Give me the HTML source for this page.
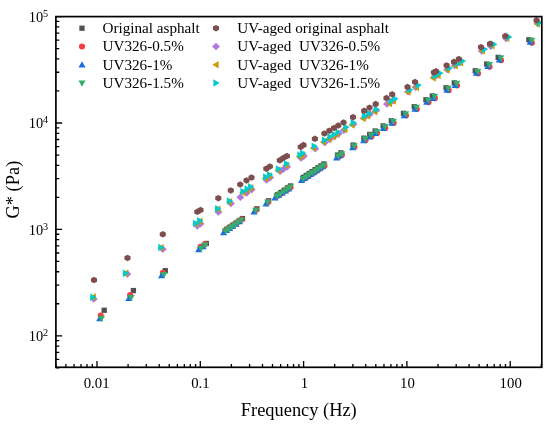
<!DOCTYPE html>
<html lang="en">
<head>
<meta charset="utf-8">
<title>G* master curve</title>
<style>html,body{margin:0;padding:0;background:#fff}svg{display:block}</style>
</head>
<body>
<svg width="550" height="425" viewBox="0 0 550 425">
<rect width="550" height="425" fill="#ffffff"/>
<clipPath id="clip"><rect x="55.9" y="16.6" width="485.9" height="350.7"/></clipPath>
<g clip-path="url(#clip)">
<g class="s-gray">
<rect x="101.55" y="307.61" width="5.3" height="5.3" fill="#515151"/>
<rect x="130.75" y="287.92" width="5.3" height="5.3" fill="#515151"/>
<rect x="162.64" y="268.03" width="5.3" height="5.3" fill="#515151"/>
<rect x="199.29" y="243.68" width="5.3" height="5.3" fill="#515151"/>
<rect x="203.68" y="240.80" width="5.3" height="5.3" fill="#515151"/>
<rect x="224.00" y="226.79" width="5.3" height="5.3" fill="#515151"/>
<rect x="226.97" y="224.74" width="5.3" height="5.3" fill="#515151"/>
<rect x="229.95" y="222.70" width="5.3" height="5.3" fill="#515151"/>
<rect x="232.93" y="220.66" width="5.3" height="5.3" fill="#515151"/>
<rect x="236.40" y="218.28" width="5.3" height="5.3" fill="#515151"/>
<rect x="239.87" y="215.91" width="5.3" height="5.3" fill="#515151"/>
<rect x="254.25" y="206.16" width="5.3" height="5.3" fill="#515151"/>
<rect x="265.98" y="198.14" width="5.3" height="5.3" fill="#515151"/>
<rect x="274.77" y="192.17" width="5.3" height="5.3" fill="#515151"/>
<rect x="278.19" y="189.86" width="5.3" height="5.3" fill="#515151"/>
<rect x="281.61" y="187.55" width="5.3" height="5.3" fill="#515151"/>
<rect x="285.02" y="185.25" width="5.3" height="5.3" fill="#515151"/>
<rect x="287.95" y="183.29" width="5.3" height="5.3" fill="#515151"/>
<rect x="300.65" y="174.81" width="5.3" height="5.3" fill="#515151"/>
<rect x="303.58" y="172.87" width="5.3" height="5.3" fill="#515151"/>
<rect x="306.51" y="170.93" width="5.3" height="5.3" fill="#515151"/>
<rect x="309.44" y="169.00" width="5.3" height="5.3" fill="#515151"/>
<rect x="312.37" y="167.07" width="5.3" height="5.3" fill="#515151"/>
<rect x="315.30" y="165.14" width="5.3" height="5.3" fill="#515151"/>
<rect x="318.23" y="163.22" width="5.3" height="5.3" fill="#515151"/>
<rect x="321.16" y="161.31" width="5.3" height="5.3" fill="#515151"/>
<rect x="334.83" y="152.42" width="5.3" height="5.3" fill="#515151"/>
<rect x="338.25" y="150.22" width="5.3" height="5.3" fill="#515151"/>
<rect x="350.45" y="142.40" width="5.3" height="5.3" fill="#515151"/>
<rect x="361.19" y="135.51" width="5.3" height="5.3" fill="#515151"/>
<rect x="367.05" y="131.78" width="5.3" height="5.3" fill="#515151"/>
<rect x="372.52" y="128.32" width="5.3" height="5.3" fill="#515151"/>
<rect x="380.53" y="123.27" width="5.3" height="5.3" fill="#515151"/>
<rect x="388.73" y="118.15" width="5.3" height="5.3" fill="#515151"/>
<rect x="400.84" y="110.67" width="5.3" height="5.3" fill="#515151"/>
<rect x="411.60" y="104.12" width="5.3" height="5.3" fill="#515151"/>
<rect x="423.27" y="97.10" width="5.3" height="5.3" fill="#515151"/>
<rect x="429.65" y="93.28" width="5.3" height="5.3" fill="#515151"/>
<rect x="443.40" y="85.13" width="5.3" height="5.3" fill="#515151"/>
<rect x="451.68" y="80.28" width="5.3" height="5.3" fill="#515151"/>
<rect x="472.61" y="68.13" width="5.3" height="5.3" fill="#515151"/>
<rect x="484.08" y="61.38" width="5.3" height="5.3" fill="#515151"/>
<rect x="495.54" y="54.70" width="5.3" height="5.3" fill="#515151"/>
<rect x="526.25" y="37.12" width="5.3" height="5.3" fill="#515151"/>
</g>
<g class="s-red">
<circle cx="100.70" cy="315.56" r="3.05" fill="#F14040"/>
<circle cx="130.10" cy="295.17" r="3.05" fill="#F14040"/>
<circle cx="162.90" cy="272.76" r="3.05" fill="#F14040"/>
<circle cx="200.40" cy="247.14" r="3.05" fill="#F14040"/>
<circle cx="204.90" cy="244.10" r="3.05" fill="#F14040"/>
<circle cx="225.40" cy="230.30" r="3.05" fill="#F14040"/>
<circle cx="228.40" cy="228.30" r="3.05" fill="#F14040"/>
<circle cx="231.40" cy="226.30" r="3.05" fill="#F14040"/>
<circle cx="234.40" cy="224.30" r="3.05" fill="#F14040"/>
<circle cx="237.90" cy="221.97" r="3.05" fill="#F14040"/>
<circle cx="241.40" cy="219.65" r="3.05" fill="#F14040"/>
<circle cx="255.90" cy="210.10" r="3.05" fill="#F14040"/>
<circle cx="267.91" cy="202.16" r="3.05" fill="#F14040"/>
<circle cx="276.91" cy="196.25" r="3.05" fill="#F14040"/>
<circle cx="280.42" cy="193.96" r="3.05" fill="#F14040"/>
<circle cx="283.92" cy="191.67" r="3.05" fill="#F14040"/>
<circle cx="287.42" cy="189.39" r="3.05" fill="#F14040"/>
<circle cx="290.42" cy="187.45" r="3.05" fill="#F14040"/>
<circle cx="303.43" cy="179.06" r="3.05" fill="#F14040"/>
<circle cx="306.43" cy="177.13" r="3.05" fill="#F14040"/>
<circle cx="309.44" cy="175.21" r="3.05" fill="#F14040"/>
<circle cx="312.44" cy="173.30" r="3.05" fill="#F14040"/>
<circle cx="315.44" cy="171.39" r="3.05" fill="#F14040"/>
<circle cx="318.44" cy="169.48" r="3.05" fill="#F14040"/>
<circle cx="321.44" cy="167.58" r="3.05" fill="#F14040"/>
<circle cx="324.45" cy="165.68" r="3.05" fill="#F14040"/>
<circle cx="338.46" cy="156.88" r="3.05" fill="#F14040"/>
<circle cx="341.96" cy="154.70" r="3.05" fill="#F14040"/>
<circle cx="354.47" cy="146.95" r="3.05" fill="#F14040"/>
<circle cx="365.48" cy="140.14" r="3.05" fill="#F14040"/>
<circle cx="371.48" cy="136.45" r="3.05" fill="#F14040"/>
<circle cx="377.08" cy="133.02" r="3.05" fill="#F14040"/>
<circle cx="385.29" cy="128.02" r="3.05" fill="#F14040"/>
<circle cx="393.69" cy="122.95" r="3.05" fill="#F14040"/>
<circle cx="406.00" cy="115.55" r="3.05" fill="#F14040"/>
<circle cx="416.81" cy="109.08" r="3.05" fill="#F14040"/>
<circle cx="428.52" cy="102.13" r="3.05" fill="#F14040"/>
<circle cx="434.93" cy="98.36" r="3.05" fill="#F14040"/>
<circle cx="448.74" cy="90.31" r="3.05" fill="#F14040"/>
<circle cx="457.04" cy="85.51" r="3.05" fill="#F14040"/>
<circle cx="478.06" cy="73.51" r="3.05" fill="#F14040"/>
<circle cx="489.57" cy="66.84" r="3.05" fill="#F14040"/>
<circle cx="501.08" cy="60.23" r="3.05" fill="#F14040"/>
<circle cx="531.90" cy="42.87" r="3.05" fill="#F14040"/>
</g>
<g class="s-blue">
<polygon points="96.15,321.37 103.25,321.37 99.70,315.17" fill="#1A6FDF"/>
<polygon points="125.35,300.98 132.45,300.98 128.90,294.78" fill="#1A6FDF"/>
<polygon points="157.95,278.36 165.05,278.36 161.50,272.16" fill="#1A6FDF"/>
<polygon points="195.19,252.31 202.29,252.31 198.74,246.11" fill="#1A6FDF"/>
<polygon points="199.66,249.22 206.76,249.22 203.21,243.02" fill="#1A6FDF"/>
<polygon points="220.07,235.14 227.17,235.14 223.62,228.94" fill="#1A6FDF"/>
<polygon points="223.06,233.09 230.16,233.09 226.61,226.89" fill="#1A6FDF"/>
<polygon points="226.05,231.05 233.15,231.05 229.60,224.85" fill="#1A6FDF"/>
<polygon points="229.04,229.01 236.14,229.01 232.59,222.81" fill="#1A6FDF"/>
<polygon points="232.52,226.64 239.62,226.64 236.07,220.44" fill="#1A6FDF"/>
<polygon points="236.01,224.27 243.11,224.27 239.56,218.07" fill="#1A6FDF"/>
<polygon points="250.45,214.51 257.55,214.51 254.00,208.31" fill="#1A6FDF"/>
<polygon points="262.47,206.44 269.57,206.44 266.02,200.24" fill="#1A6FDF"/>
<polygon points="271.48,200.42 278.58,200.42 275.03,194.22" fill="#1A6FDF"/>
<polygon points="274.98,198.10 282.08,198.10 278.53,191.90" fill="#1A6FDF"/>
<polygon points="278.49,195.77 285.59,195.77 282.04,189.57" fill="#1A6FDF"/>
<polygon points="281.99,193.46 289.09,193.46 285.54,187.26" fill="#1A6FDF"/>
<polygon points="285.00,191.48 292.10,191.48 288.55,185.28" fill="#1A6FDF"/>
<polygon points="298.01,182.94 305.11,182.94 301.56,176.74" fill="#1A6FDF"/>
<polygon points="301.02,180.98 308.12,180.98 304.57,174.78" fill="#1A6FDF"/>
<polygon points="304.02,179.03 311.12,179.03 307.57,172.83" fill="#1A6FDF"/>
<polygon points="307.03,177.08 314.13,177.08 310.58,170.88" fill="#1A6FDF"/>
<polygon points="310.03,175.14 317.13,175.14 313.58,168.94" fill="#1A6FDF"/>
<polygon points="313.04,173.20 320.14,173.20 316.59,167.00" fill="#1A6FDF"/>
<polygon points="316.04,171.26 323.14,171.26 319.59,165.06" fill="#1A6FDF"/>
<polygon points="319.04,169.33 326.14,169.33 322.59,163.13" fill="#1A6FDF"/>
<polygon points="333.06,160.38 340.16,160.38 336.61,154.18" fill="#1A6FDF"/>
<polygon points="336.57,158.16 343.67,158.16 340.12,151.96" fill="#1A6FDF"/>
<polygon points="349.09,150.28 356.19,150.28 352.64,144.08" fill="#1A6FDF"/>
<polygon points="360.10,143.34 367.20,143.34 363.65,137.14" fill="#1A6FDF"/>
<polygon points="366.11,139.58 373.21,139.58 369.66,133.38" fill="#1A6FDF"/>
<polygon points="371.72,136.09 378.82,136.09 375.27,129.89" fill="#1A6FDF"/>
<polygon points="379.93,131.01 387.03,131.01 383.48,124.81" fill="#1A6FDF"/>
<polygon points="388.34,125.84 395.44,125.84 391.89,119.64" fill="#1A6FDF"/>
<polygon points="400.66,118.33 407.76,118.33 404.21,112.13" fill="#1A6FDF"/>
<polygon points="411.47,111.79 418.57,111.79 415.02,105.59" fill="#1A6FDF"/>
<polygon points="423.19,104.77 430.29,104.77 426.74,98.57" fill="#1A6FDF"/>
<polygon points="429.60,100.96 436.70,100.96 433.15,94.76" fill="#1A6FDF"/>
<polygon points="443.42,92.82 450.52,92.82 446.97,86.62" fill="#1A6FDF"/>
<polygon points="451.74,87.97 458.84,87.97 455.29,81.77" fill="#1A6FDF"/>
<polygon points="472.77,75.85 479.87,75.85 476.32,69.65" fill="#1A6FDF"/>
<polygon points="484.29,69.10 491.39,69.10 487.84,62.90" fill="#1A6FDF"/>
<polygon points="495.80,62.43 502.90,62.43 499.35,56.23" fill="#1A6FDF"/>
<polygon points="526.65,44.87 533.75,44.87 530.20,38.67" fill="#1A6FDF"/>
</g>
<g class="s-green">
<polygon points="97.95,315.86 105.05,315.86 101.50,322.06" fill="#37AD6B"/>
<polygon points="127.55,294.97 134.65,294.97 131.10,301.17" fill="#37AD6B"/>
<polygon points="160.34,271.95 167.44,271.95 163.89,278.15" fill="#37AD6B"/>
<polygon points="197.33,245.64 204.43,245.64 200.88,251.84" fill="#37AD6B"/>
<polygon points="201.77,242.52 208.87,242.52 205.32,248.72" fill="#37AD6B"/>
<polygon points="222.02,228.39 229.12,228.39 225.57,234.59" fill="#37AD6B"/>
<polygon points="224.99,226.34 232.09,226.34 228.54,232.54" fill="#37AD6B"/>
<polygon points="227.95,224.29 235.05,224.29 231.50,230.49" fill="#37AD6B"/>
<polygon points="230.91,222.25 238.01,222.25 234.46,228.45" fill="#37AD6B"/>
<polygon points="234.37,219.86 241.47,219.86 237.92,226.06" fill="#37AD6B"/>
<polygon points="237.83,217.49 244.93,217.49 241.38,223.69" fill="#37AD6B"/>
<polygon points="252.16,207.70 259.26,207.70 255.71,213.90" fill="#37AD6B"/>
<polygon points="264.15,199.60 271.25,199.60 267.70,205.80" fill="#37AD6B"/>
<polygon points="273.15,193.57 280.25,193.57 276.70,199.77" fill="#37AD6B"/>
<polygon points="276.65,191.24 283.75,191.24 280.20,197.44" fill="#37AD6B"/>
<polygon points="280.15,188.91 287.25,188.91 283.70,195.11" fill="#37AD6B"/>
<polygon points="283.65,186.58 290.75,186.58 287.20,192.78" fill="#37AD6B"/>
<polygon points="286.65,184.60 293.75,184.60 290.20,190.80" fill="#37AD6B"/>
<polygon points="299.65,176.04 306.75,176.04 303.20,182.24" fill="#37AD6B"/>
<polygon points="302.65,174.07 309.75,174.07 306.20,180.27" fill="#37AD6B"/>
<polygon points="305.65,172.11 312.75,172.11 309.20,178.31" fill="#37AD6B"/>
<polygon points="308.65,170.16 315.75,170.16 312.20,176.36" fill="#37AD6B"/>
<polygon points="311.65,168.21 318.75,168.21 315.20,174.41" fill="#37AD6B"/>
<polygon points="314.65,166.26 321.75,166.26 318.20,172.46" fill="#37AD6B"/>
<polygon points="317.65,164.32 324.75,164.32 321.20,170.52" fill="#37AD6B"/>
<polygon points="320.65,162.38 327.75,162.38 324.20,168.58" fill="#37AD6B"/>
<polygon points="334.65,153.41 341.75,153.41 338.20,159.61" fill="#37AD6B"/>
<polygon points="338.15,151.18 345.25,151.18 341.70,157.38" fill="#37AD6B"/>
<polygon points="350.65,143.27 357.75,143.27 354.20,149.47" fill="#37AD6B"/>
<polygon points="361.65,136.30 368.75,136.30 365.20,142.50" fill="#37AD6B"/>
<polygon points="367.65,132.53 374.75,132.53 371.20,138.73" fill="#37AD6B"/>
<polygon points="373.25,129.03 380.35,129.03 376.80,135.23" fill="#37AD6B"/>
<polygon points="381.45,123.93 388.55,123.93 385.00,130.13" fill="#37AD6B"/>
<polygon points="389.85,118.75 396.95,118.75 393.40,124.95" fill="#37AD6B"/>
<polygon points="402.16,111.22 409.26,111.22 405.71,117.42" fill="#37AD6B"/>
<polygon points="412.97,104.67 420.07,104.67 416.52,110.87" fill="#37AD6B"/>
<polygon points="424.69,97.64 431.79,97.64 428.24,103.84" fill="#37AD6B"/>
<polygon points="431.10,93.83 438.20,93.83 434.65,100.03" fill="#37AD6B"/>
<polygon points="444.92,85.68 452.02,85.68 448.47,91.88" fill="#37AD6B"/>
<polygon points="453.24,80.82 460.34,80.82 456.79,87.02" fill="#37AD6B"/>
<polygon points="474.27,68.68 481.37,68.68 477.82,74.88" fill="#37AD6B"/>
<polygon points="485.79,61.93 492.89,61.93 489.34,68.13" fill="#37AD6B"/>
<polygon points="497.30,55.24 504.40,55.24 500.85,61.44" fill="#37AD6B"/>
<polygon points="528.15,37.66 535.25,37.66 531.70,43.86" fill="#37AD6B"/>
</g>
<g class="s-purple">
<polygon points="89.85,298.99 93.80,295.19 97.75,298.99 93.80,302.79" fill="#B177DE"/>
<polygon points="123.43,274.02 127.38,270.22 131.33,274.02 127.38,277.82" fill="#B177DE"/>
<polygon points="158.82,249.23 162.77,245.43 166.72,249.23 162.77,253.03" fill="#B177DE"/>
<polygon points="193.41,225.85 197.36,222.05 201.31,225.85 197.36,229.65" fill="#B177DE"/>
<polygon points="196.61,223.72 200.56,219.92 204.51,223.72 200.56,227.52" fill="#B177DE"/>
<polygon points="214.46,211.98 218.41,208.18 222.36,211.98 218.41,215.78" fill="#B177DE"/>
<polygon points="226.99,203.47 230.94,199.67 234.89,203.47 230.94,207.27" fill="#B177DE"/>
<polygon points="236.41,197.13 240.36,193.33 244.31,197.13 240.36,200.93" fill="#B177DE"/>
<polygon points="242.73,192.91 246.68,189.11 250.63,192.91 246.68,196.71" fill="#B177DE"/>
<polygon points="247.74,189.58 251.69,185.78 255.64,189.58 251.69,193.38" fill="#B177DE"/>
<polygon points="262.58,179.93 266.53,176.13 270.48,179.93 266.53,183.73" fill="#B177DE"/>
<polygon points="266.19,177.60 270.14,173.80 274.09,177.60 270.14,181.40" fill="#B177DE"/>
<polygon points="276.11,171.23 280.06,167.43 284.01,171.23 280.06,175.03" fill="#B177DE"/>
<polygon points="279.62,168.98 283.57,165.18 287.52,168.98 283.57,172.78" fill="#B177DE"/>
<polygon points="283.23,166.69 287.18,162.89 291.13,166.69 287.18,170.49" fill="#B177DE"/>
<polygon points="297.06,157.92 301.01,154.12 304.96,157.92 301.01,161.72" fill="#B177DE"/>
<polygon points="299.87,156.08 303.82,152.28 307.77,156.08 303.82,159.88" fill="#B177DE"/>
<polygon points="311.30,148.66 315.25,144.86 319.20,148.66 315.25,152.46" fill="#B177DE"/>
<polygon points="320.82,142.52 324.77,138.72 328.72,142.52 324.77,146.32" fill="#B177DE"/>
<polygon points="325.73,139.37 329.68,135.57 333.63,139.37 329.68,143.17" fill="#B177DE"/>
<polygon points="330.45,136.36 334.40,132.56 338.35,136.36 334.40,140.16" fill="#B177DE"/>
<polygon points="334.76,133.62 338.71,129.82 342.66,133.62 338.71,137.42" fill="#B177DE"/>
<polygon points="339.97,130.32 343.92,126.52 347.87,130.32 343.92,134.12" fill="#B177DE"/>
<polygon points="349.49,124.32 353.44,120.52 357.39,124.32 353.44,128.12" fill="#B177DE"/>
<polygon points="360.72,117.32 364.67,113.52 368.62,117.32 364.67,121.12" fill="#B177DE"/>
<polygon points="366.03,114.12 369.98,110.32 373.93,114.12 369.98,117.92" fill="#B177DE"/>
<polygon points="372.25,110.39 376.20,106.59 380.15,110.39 376.20,114.19" fill="#B177DE"/>
<polygon points="383.08,103.96 387.03,100.16 390.98,103.96 387.03,107.76" fill="#B177DE"/>
<polygon points="388.79,100.59 392.74,96.79 396.69,100.59 392.74,104.39" fill="#B177DE"/>
<polygon points="404.13,91.64 408.08,87.84 412.03,91.64 408.08,95.44" fill="#B177DE"/>
<polygon points="411.65,87.30 415.60,83.50 419.55,87.30 415.60,91.10" fill="#B177DE"/>
<polygon points="430.59,76.53 434.54,72.73 438.49,76.53 434.54,80.33" fill="#B177DE"/>
<polygon points="432.70,75.34 436.65,71.54 440.60,75.34 436.65,79.14" fill="#B177DE"/>
<polygon points="443.33,69.46 447.28,65.66 451.23,69.46 447.28,73.26" fill="#B177DE"/>
<polygon points="450.74,65.42 454.69,61.62 458.64,65.42 454.69,69.22" fill="#B177DE"/>
<polygon points="455.66,62.76 459.61,58.96 463.56,62.76 459.61,66.56" fill="#B177DE"/>
<polygon points="477.81,50.99 481.76,47.19 485.71,50.99 481.76,54.79" fill="#B177DE"/>
<polygon points="486.83,46.31 490.78,42.51 494.73,46.31 490.78,50.11" fill="#B177DE"/>
<polygon points="502.17,38.49 506.12,34.69 510.07,38.49 506.12,42.29" fill="#B177DE"/>
<polygon points="533.55,23.13 537.50,19.33 541.45,23.13 537.50,26.93" fill="#B177DE"/>
</g>
<g class="s-gold">
<polygon points="95.85,293.21 95.85,300.71 89.55,296.96" fill="#CC9900"/>
<polygon points="128.37,269.50 128.37,277.00 122.07,273.25" fill="#CC9900"/>
<polygon points="163.70,244.10 163.70,251.60 157.40,247.85" fill="#CC9900"/>
<polygon points="198.42,220.20 198.42,227.70 192.12,223.95" fill="#CC9900"/>
<polygon points="202.51,217.59 202.51,225.09 196.21,221.34" fill="#CC9900"/>
<polygon points="220.47,205.61 220.47,213.11 214.17,209.36" fill="#CC9900"/>
<polygon points="232.15,197.96 232.15,205.46 225.85,201.71" fill="#CC9900"/>
<polygon points="245.50,188.82 245.50,196.32 239.20,192.57" fill="#CC9900"/>
<polygon points="249.66,186.30 249.66,193.80 243.36,190.05" fill="#CC9900"/>
<polygon points="253.12,184.05 253.12,191.55 246.82,187.80" fill="#CC9900"/>
<polygon points="268.06,174.49 268.06,181.99 261.76,178.24" fill="#CC9900"/>
<polygon points="271.82,172.31 271.82,179.81 265.52,176.06" fill="#CC9900"/>
<polygon points="280.62,166.53 280.62,174.03 274.32,170.28" fill="#CC9900"/>
<polygon points="288.63,161.45 288.63,168.95 282.33,165.20" fill="#CC9900"/>
<polygon points="301.89,152.85 301.89,160.35 295.59,156.60" fill="#CC9900"/>
<polygon points="304.65,151.21 304.65,158.71 298.35,154.96" fill="#CC9900"/>
<polygon points="316.03,144.27 316.03,151.77 309.73,148.02" fill="#CC9900"/>
<polygon points="326.12,138.31 326.12,145.81 319.82,142.06" fill="#CC9900"/>
<polygon points="331.56,135.04 331.56,142.54 325.26,138.79" fill="#CC9900"/>
<polygon points="335.52,132.72 335.52,140.22 329.22,136.47" fill="#CC9900"/>
<polygon points="339.47,130.45 339.47,137.95 333.17,134.20" fill="#CC9900"/>
<polygon points="347.39,125.73 347.39,133.23 341.09,129.48" fill="#CC9900"/>
<polygon points="354.61,121.33 354.61,128.83 348.31,125.08" fill="#CC9900"/>
<polygon points="365.68,114.68 365.68,122.18 359.38,118.43" fill="#CC9900"/>
<polygon points="370.14,112.14 370.14,119.64 363.84,115.89" fill="#CC9900"/>
<polygon points="377.39,108.08 377.39,115.58 371.09,111.83" fill="#CC9900"/>
<polygon points="391.99,99.66 391.99,107.16 385.69,103.41" fill="#CC9900"/>
<polygon points="395.96,97.25 395.96,104.75 389.66,101.00" fill="#CC9900"/>
<polygon points="410.56,88.27 410.56,95.77 404.26,92.02" fill="#CC9900"/>
<polygon points="419.00,83.80 419.00,91.30 412.70,87.55" fill="#CC9900"/>
<polygon points="435.68,74.13 435.68,81.63 429.38,77.88" fill="#CC9900"/>
<polygon points="440.65,71.70 440.65,79.20 434.35,75.45" fill="#CC9900"/>
<polygon points="449.83,66.35 449.83,73.85 443.53,70.10" fill="#CC9900"/>
<polygon points="457.81,62.02 457.81,69.52 451.51,65.77" fill="#CC9900"/>
<polygon points="463.10,58.97 463.10,66.47 456.80,62.72" fill="#CC9900"/>
<polygon points="484.96,47.03 484.96,54.53 478.66,50.78" fill="#CC9900"/>
<polygon points="494.44,42.00 494.44,49.50 488.14,45.75" fill="#CC9900"/>
<polygon points="509.31,34.55 509.31,42.05 503.01,38.30" fill="#CC9900"/>
<polygon points="539.85,20.15 539.85,27.65 533.55,23.90" fill="#CC9900"/>
</g>
<g class="s-cyan">
<polygon points="90.25,293.51 90.25,301.01 96.55,297.26" fill="#00CBCC"/>
<polygon points="122.85,269.54 122.85,277.04 129.15,273.29" fill="#00CBCC"/>
<polygon points="158.25,243.86 158.25,251.36 164.55,247.61" fill="#00CBCC"/>
<polygon points="193.05,219.68 193.05,227.18 199.35,223.43" fill="#00CBCC"/>
<polygon points="197.15,217.03 197.15,224.53 203.45,220.78" fill="#00CBCC"/>
<polygon points="215.15,204.91 215.15,212.41 221.45,208.66" fill="#00CBCC"/>
<polygon points="226.85,197.17 226.85,204.67 233.15,200.92" fill="#00CBCC"/>
<polygon points="240.35,187.87 240.35,195.37 246.65,191.62" fill="#00CBCC"/>
<polygon points="244.55,185.30 244.55,192.80 250.85,189.05" fill="#00CBCC"/>
<polygon points="248.05,183.01 248.05,190.51 254.35,186.76" fill="#00CBCC"/>
<polygon points="263.15,173.27 263.15,180.77 269.45,177.02" fill="#00CBCC"/>
<polygon points="266.95,171.06 266.95,178.56 273.25,174.81" fill="#00CBCC"/>
<polygon points="275.85,165.17 275.85,172.67 282.15,168.92" fill="#00CBCC"/>
<polygon points="283.95,160.00 283.95,167.50 290.25,163.75" fill="#00CBCC"/>
<polygon points="297.35,151.24 297.35,158.74 303.65,154.99" fill="#00CBCC"/>
<polygon points="300.15,149.57 300.15,157.07 306.45,153.32" fill="#00CBCC"/>
<polygon points="311.65,142.50 311.65,150.00 317.95,146.25" fill="#00CBCC"/>
<polygon points="321.85,136.41 321.85,143.91 328.15,140.16" fill="#00CBCC"/>
<polygon points="327.35,133.08 327.35,140.58 333.65,136.83" fill="#00CBCC"/>
<polygon points="331.35,130.71 331.35,138.21 337.65,134.46" fill="#00CBCC"/>
<polygon points="335.35,128.40 335.35,135.90 341.65,132.15" fill="#00CBCC"/>
<polygon points="343.35,123.59 343.35,131.09 349.65,127.34" fill="#00CBCC"/>
<polygon points="350.65,119.10 350.65,126.60 356.95,122.85" fill="#00CBCC"/>
<polygon points="361.85,112.32 361.85,119.82 368.15,116.07" fill="#00CBCC"/>
<polygon points="366.35,109.74 366.35,117.24 372.65,113.49" fill="#00CBCC"/>
<polygon points="373.65,105.70 373.65,113.20 379.95,109.45" fill="#00CBCC"/>
<polygon points="388.35,97.33 388.35,104.83 394.65,101.08" fill="#00CBCC"/>
<polygon points="392.35,94.93 392.35,102.43 398.65,98.68" fill="#00CBCC"/>
<polygon points="407.05,85.98 407.05,93.48 413.35,89.73" fill="#00CBCC"/>
<polygon points="415.55,81.54 415.55,89.04 421.85,85.29" fill="#00CBCC"/>
<polygon points="432.35,71.92 432.35,79.42 438.65,75.67" fill="#00CBCC"/>
<polygon points="437.35,69.50 437.35,77.00 443.65,73.25" fill="#00CBCC"/>
<polygon points="446.55,64.29 446.55,71.79 452.85,68.04" fill="#00CBCC"/>
<polygon points="454.55,60.09 454.55,67.59 460.85,63.84" fill="#00CBCC"/>
<polygon points="459.85,57.13 459.85,64.63 466.15,60.88" fill="#00CBCC"/>
<polygon points="481.75,45.54 481.75,53.04 488.05,49.29" fill="#00CBCC"/>
<polygon points="491.25,40.61 491.25,48.11 497.55,44.36" fill="#00CBCC"/>
<polygon points="506.15,33.22 506.15,40.72 512.45,36.97" fill="#00CBCC"/>
<polygon points="536.75,18.95 536.75,26.45 543.05,22.70" fill="#00CBCC"/>
</g>
<g class="s-brown">
<polygon points="94.00,276.85 97.05,278.48 97.05,281.73 94.00,283.35 90.95,281.73 90.95,278.48" fill="#7D4E4E"/>
<polygon points="127.50,254.65 130.55,256.27 130.55,259.52 127.50,261.15 124.45,259.52 124.45,256.27" fill="#7D4E4E"/>
<polygon points="162.80,231.05 165.85,232.68 165.85,235.93 162.80,237.55 159.75,235.93 159.75,232.68" fill="#7D4E4E"/>
<polygon points="197.30,208.55 200.35,210.18 200.35,213.43 197.30,215.05 194.25,213.43 194.25,210.18" fill="#7D4E4E"/>
<polygon points="200.50,206.85 203.55,208.47 203.55,211.72 200.50,213.35 197.45,211.72 197.45,208.47" fill="#7D4E4E"/>
<polygon points="218.30,194.95 221.35,196.57 221.35,199.82 218.30,201.45 215.25,199.82 215.25,196.57" fill="#7D4E4E"/>
<polygon points="230.80,187.15 233.85,188.78 233.85,192.03 230.80,193.65 227.75,192.03 227.75,188.78" fill="#7D4E4E"/>
<polygon points="240.20,181.25 243.25,182.88 243.25,186.12 240.20,187.75 237.15,186.12 237.15,182.88" fill="#7D4E4E"/>
<polygon points="246.50,177.15 249.55,178.78 249.55,182.03 246.50,183.65 243.45,182.03 243.45,178.78" fill="#7D4E4E"/>
<polygon points="251.50,174.35 254.55,175.97 254.55,179.22 251.50,180.85 248.45,179.22 248.45,175.97" fill="#7D4E4E"/>
<polygon points="266.30,165.45 269.35,167.07 269.35,170.32 266.30,171.95 263.25,170.32 263.25,167.07" fill="#7D4E4E"/>
<polygon points="269.90,163.25 272.95,164.88 272.95,168.12 269.90,169.75 266.85,168.12 266.85,164.88" fill="#7D4E4E"/>
<polygon points="279.80,157.05 282.85,158.68 282.85,161.93 279.80,163.55 276.75,161.93 276.75,158.68" fill="#7D4E4E"/>
<polygon points="283.30,154.75 286.35,156.38 286.35,159.62 283.30,161.25 280.25,159.62 280.25,156.38" fill="#7D4E4E"/>
<polygon points="286.90,152.85 289.95,154.47 289.95,157.72 286.90,159.35 283.85,157.72 283.85,154.47" fill="#7D4E4E"/>
<polygon points="300.70,143.75 303.75,145.38 303.75,148.62 300.70,150.25 297.65,148.62 297.65,145.38" fill="#7D4E4E"/>
<polygon points="303.50,141.85 306.55,143.47 306.55,146.72 303.50,148.35 300.45,146.72 300.45,143.47" fill="#7D4E4E"/>
<polygon points="314.90,135.55 317.95,137.18 317.95,140.43 314.90,142.05 311.85,140.43 311.85,137.18" fill="#7D4E4E"/>
<polygon points="324.40,130.25 327.45,131.88 327.45,135.12 324.40,136.75 321.35,135.12 321.35,131.88" fill="#7D4E4E"/>
<polygon points="329.30,127.45 332.35,129.07 332.35,132.32 329.30,133.95 326.25,132.32 326.25,129.07" fill="#7D4E4E"/>
<polygon points="334.00,124.75 337.05,126.38 337.05,129.62 334.00,131.25 330.95,129.62 330.95,126.38" fill="#7D4E4E"/>
<polygon points="338.30,122.25 341.35,123.88 341.35,127.12 338.30,128.75 335.25,127.12 335.25,123.88" fill="#7D4E4E"/>
<polygon points="343.50,119.25 346.55,120.88 346.55,124.12 343.50,125.75 340.45,124.12 340.45,120.88" fill="#7D4E4E"/>
<polygon points="353.00,113.95 356.05,115.58 356.05,118.83 353.00,120.45 349.95,118.83 349.95,115.58" fill="#7D4E4E"/>
<polygon points="364.20,107.55 367.25,109.17 367.25,112.42 364.20,114.05 361.15,112.42 361.15,109.17" fill="#7D4E4E"/>
<polygon points="369.50,104.45 372.55,106.08 372.55,109.33 369.50,110.95 366.45,109.33 366.45,106.08" fill="#7D4E4E"/>
<polygon points="375.70,100.85 378.75,102.47 378.75,105.72 375.70,107.35 372.65,105.72 372.65,102.47" fill="#7D4E4E"/>
<polygon points="386.50,94.85 389.55,96.47 389.55,99.72 386.50,101.35 383.45,99.72 383.45,96.47" fill="#7D4E4E"/>
<polygon points="392.20,91.05 395.25,92.67 395.25,95.92 392.20,97.55 389.15,95.92 389.15,92.67" fill="#7D4E4E"/>
<polygon points="407.50,83.75 410.55,85.38 410.55,88.62 407.50,90.25 404.45,88.62 404.45,85.38" fill="#7D4E4E"/>
<polygon points="415.00,78.75 418.05,80.38 418.05,83.62 415.00,85.25 411.95,83.62 411.95,80.38" fill="#7D4E4E"/>
<polygon points="433.90,69.15 436.95,70.78 436.95,74.03 433.90,75.65 430.85,74.03 430.85,70.78" fill="#7D4E4E"/>
<polygon points="436.00,68.05 439.05,69.67 439.05,72.92 436.00,74.55 432.95,72.92 432.95,69.67" fill="#7D4E4E"/>
<polygon points="446.60,62.15 449.65,63.78 449.65,67.03 446.60,68.65 443.55,67.03 443.55,63.78" fill="#7D4E4E"/>
<polygon points="454.00,58.55 457.05,60.17 457.05,63.42 454.00,65.05 450.95,63.42 450.95,60.17" fill="#7D4E4E"/>
<polygon points="458.90,55.75 461.95,57.38 461.95,60.62 458.90,62.25 455.85,60.62 455.85,57.38" fill="#7D4E4E"/>
<polygon points="481.00,43.95 484.05,45.58 484.05,48.83 481.00,50.45 477.95,48.83 477.95,45.58" fill="#7D4E4E"/>
<polygon points="490.00,40.55 493.05,42.17 493.05,45.42 490.00,47.05 486.95,45.42 486.95,42.17" fill="#7D4E4E"/>
<polygon points="505.30,32.85 508.35,34.48 508.35,37.73 505.30,39.35 502.25,37.73 502.25,34.48" fill="#7D4E4E"/>
<polygon points="536.60,17.05 539.65,18.68 539.65,21.93 536.60,23.55 533.55,21.93 533.55,18.68" fill="#7D4E4E"/>
</g>
</g>
<path d="M55.89 367.3V363.90M65.90 367.3V363.90M74.08 367.3V363.90M81.00 367.3V363.90M86.99 367.3V363.90M92.27 367.3V363.90M97.00 367.3V361.00M128.10 367.3V363.90M146.29 367.3V363.90M159.19 367.3V363.90M169.20 367.3V363.90M177.38 367.3V363.90M184.30 367.3V363.90M190.29 367.3V363.90M195.57 367.3V363.90M200.30 367.3V361.00M231.40 367.3V363.90M249.59 367.3V363.90M262.49 367.3V363.90M272.50 367.3V363.90M280.68 367.3V363.90M287.60 367.3V363.90M293.59 367.3V363.90M298.87 367.3V363.90M303.60 367.3V361.00M334.70 367.3V363.90M352.89 367.3V363.90M365.79 367.3V363.90M375.80 367.3V363.90M383.98 367.3V363.90M390.90 367.3V363.90M396.89 367.3V363.90M402.17 367.3V363.90M406.90 367.3V361.00M438.00 367.3V363.90M456.19 367.3V363.90M469.09 367.3V363.90M479.10 367.3V363.90M487.28 367.3V363.90M494.20 367.3V363.90M500.19 367.3V363.90M505.47 367.3V363.90M510.20 367.3V361.00M541.30 367.3V363.90M55.9 367.83H59.30M55.9 359.40H59.30M55.9 352.28H59.30M55.9 346.11H59.30M55.9 340.67H59.30M55.9 335.80H62.20M55.9 303.77H59.30M55.9 285.03H59.30M55.9 271.74H59.30M55.9 261.43H59.30M55.9 253.00H59.30M55.9 245.88H59.30M55.9 239.71H59.30M55.9 234.27H59.30M55.9 229.40H62.20M55.9 197.37H59.30M55.9 178.63H59.30M55.9 165.34H59.30M55.9 155.03H59.30M55.9 146.60H59.30M55.9 139.48H59.30M55.9 133.31H59.30M55.9 127.87H59.30M55.9 123.00H62.20M55.9 90.97H59.30M55.9 72.23H59.30M55.9 58.94H59.30M55.9 48.63H59.30M55.9 40.20H59.30M55.9 33.08H59.30M55.9 26.91H59.30M55.9 21.47H59.30M55.9 16.60H62.20" stroke="#000" stroke-width="1.3" fill="none"/>
<rect x="55.9" y="16.6" width="485.90" height="350.70" fill="none" stroke="#000" stroke-width="1.7"/>
<g font-family="'Liberation Serif', 'Times New Roman', serif" font-size="14.8" fill="#000">
<text x="96.60" y="388.2" text-anchor="middle">0.01</text>
<text x="200.40" y="388.2" text-anchor="middle">0.1</text>
<text x="304.40" y="388.2" text-anchor="middle">1</text>
<text x="407.50" y="388.2" text-anchor="middle">10</text>
<text x="510.70" y="388.2" text-anchor="middle">100</text>
<text x="48.2" y="341.00" text-anchor="end" font-size="14.4">10<tspan font-size="10.2" dy="-5.1">2</tspan></text>
<text x="48.2" y="234.60" text-anchor="end" font-size="14.4">10<tspan font-size="10.2" dy="-5.1">3</tspan></text>
<text x="48.2" y="128.20" text-anchor="end" font-size="14.4">10<tspan font-size="10.2" dy="-5.1">4</tspan></text>
<text x="48.2" y="21.80" text-anchor="end" font-size="14.4">10<tspan font-size="10.2" dy="-5.1">5</tspan></text>
</g>
<g font-family="'Liberation Serif', 'Times New Roman', serif" font-size="18.4" fill="#000">
<text x="298.8" y="415.8" text-anchor="middle">Frequency (Hz)</text>
<text transform="translate(19.4 189.6) rotate(-90)" text-anchor="middle">G* (Pa)</text>
</g>
<g font-family="'Liberation Serif', 'Times New Roman', serif" font-size="15.15" fill="#000">
<rect x="79.35" y="25.55" width="5.3" height="5.3" fill="#515151"/>
<text x="102.6" y="33.10" xml:space="preserve" style="white-space:pre">Original asphalt</text>
<circle cx="82.00" cy="46.50" r="3.05" fill="#F14040"/>
<text x="102.6" y="51.40" xml:space="preserve" style="white-space:pre">UV326-0.5%</text>
<polygon points="78.45,67.40 85.55,67.40 82.00,61.20" fill="#1A6FDF"/>
<text x="102.6" y="69.70" xml:space="preserve" style="white-space:pre">UV326-1%</text>
<polygon points="78.45,80.50 85.55,80.50 82.00,86.70" fill="#37AD6B"/>
<text x="102.6" y="88.00" xml:space="preserve" style="white-space:pre">UV326-1.5%</text>
<polygon points="216.00,24.95 219.05,26.57 219.05,29.82 216.00,31.45 212.95,29.82 212.95,26.57" fill="#7D4E4E"/>
<text x="237.3" y="33.10" xml:space="preserve" style="white-space:pre">UV-aged original asphalt</text>
<polygon points="212.05,46.50 216.00,42.70 219.95,46.50 216.00,50.30" fill="#B177DE"/>
<text x="237.3" y="51.40" xml:space="preserve" style="white-space:pre">UV-aged  UV326-0.5%</text>
<polygon points="218.65,61.05 218.65,68.55 212.35,64.80" fill="#CC9900"/>
<text x="237.3" y="69.70" xml:space="preserve" style="white-space:pre">UV-aged  UV326-1%</text>
<polygon points="213.35,79.35 213.35,86.85 219.65,83.10" fill="#00CBCC"/>
<text x="237.3" y="88.00" xml:space="preserve" style="white-space:pre">UV-aged  UV326-1.5%</text>
</g>
</svg>
</body>
</html>
